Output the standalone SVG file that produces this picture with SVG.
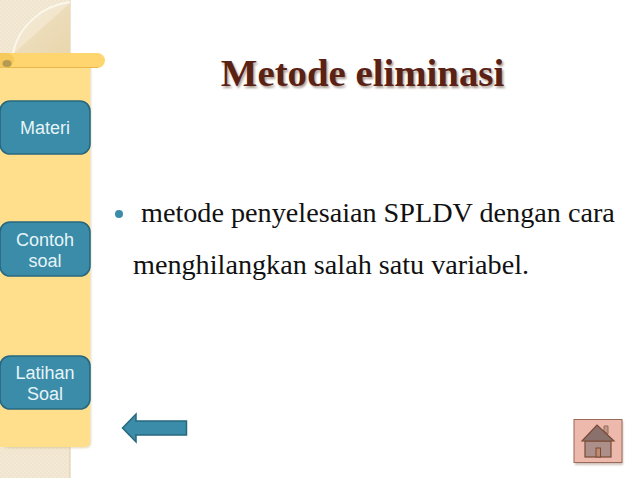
<svg xmlns="http://www.w3.org/2000/svg" width="638" height="478" viewBox="0 0 638 478">
<style>
.btn{fill:#3a8ca8;stroke:#27687f;stroke-width:1.600}
.bt{font-family:"Liberation Sans",Arial,sans-serif;font-size:18px;fill:#e6f4f8;text-anchor:middle}
.body{font-family:"Liberation Serif","Times New Roman",serif;font-size:28.200px;fill:#111}
.title{font-family:"Liberation Serif","Times New Roman",serif;font-size:38.800px;font-weight:bold;fill:#5a2115;text-anchor:middle}
</style>
<defs>
<pattern id="dots" width="4" height="4" patternUnits="userSpaceOnUse"><rect width="4" height="4" fill="#f3e9d4"/><circle cx="1" cy="1" r="0.8" fill="#ecdfc4"/><circle cx="3" cy="3" r="0.8" fill="#ecdfc4"/></pattern>
<linearGradient id="peel" x1="0" y1="0" x2="1" y2="1"><stop offset="0" stop-color="#f4ead6"/><stop offset=".5" stop-color="#f2e6cd"/><stop offset=".52" stop-color="#ecdcb9"/><stop offset="1" stop-color="#e9d6ad"/></linearGradient>
<filter id="sh" x="-10%" y="-20%" width="120%" height="140%"><feGaussianBlur stdDeviation="1"/></filter>
</defs>
<rect width="638" height="478" fill="#fff"/>
<g id="paper">
<rect x="0" y="0" width="70" height="478" fill="url(#dots)"/>
<rect x="69.500" y="0" width="1" height="478" fill="#dcc9a5"/>
<path d="M13 53C18 28 40 6 70 2V53Z" fill="url(#peel)"/>
<path d="M13 53C18 28 40 6 70 2" fill="none" stroke="#fbf7ec" stroke-width="2"/>
</g>
<g id="scroll">
<rect x="3" y="60" width="88" height="388" rx="5" fill="#c9b27a" opacity=".5" filter="url(#sh)"/>
<path d="M0 62H90V442a5 5 0 0 1-5 5H0Z" fill="#ffdf8c"/>
<rect x="0" y="53" width="105" height="15" rx="7.500" fill="#ffd56f"/>
<path d="M0 67.500H98" stroke="#e9b64c" stroke-width="1.200"/>
<path d="M0 53H7a7.500 7.500 0 0 1 7 7.500A7.500 7.500 0 0 1 7 67.500H0Z" fill="#f6c95c"/>
<ellipse cx="7" cy="63.500" rx="4.500" ry="3.500" fill="#b59a52"/>
</g>
<g id="materi">
<rect class="btn" x="0" y="101" width="90" height="53" rx="10"/>
<text class="bt" x="45" y="134">Materi</text>
</g>
<g id="contoh-soal">
<rect class="btn" x="0" y="222" width="90" height="54" rx="10"/>
<text class="bt" x="45" y="246">Contoh</text>
<text class="bt" x="45" y="267">soal</text>
</g>
<g id="latihan-soal">
<rect class="btn" x="0" y="356" width="90" height="53" rx="10"/>
<text class="bt" x="45" y="379">Latihan</text>
<text class="bt" x="45" y="400">Soal</text>
</g>
<g id="title">
<text class="title" x="362.500" y="86" dx="1.500" dy="1.500" style="fill:#a89a90" filter="url(#sh)">Metode eliminasi</text>
<text class="title" x="362.500" y="86">Metode eliminasi</text>
</g>
<g id="content">
<circle cx="119" cy="214" r="4" fill="#3a8ca8"/>
<text class="body" x="141" y="222">metode penyelesaian SPLDV dengan cara</text>
<text class="body" x="133" y="274">menghilangkan salah satu variabel.</text>
</g>
<g id="back">
<path d="M122.500 428L136 414V421H186.500V435H136V442Z" fill="#3a8ca8" stroke="#27687f" stroke-width="1.500"/>
</g>
<g id="home">
<rect x="575" y="421" width="48" height="44" fill="#b9a79f" opacity=".7" filter="url(#sh)"/>
<rect x="574" y="419.500" width="48" height="43" fill="#ecb9ac" stroke="#9a6a58" stroke-width="1"/>
<rect x="585" y="441" width="26" height="16" fill="#ab8f88" stroke="#7a4a35" stroke-width="1.200"/>
<path d="M604 431V426H608V434Z" fill="#c09a8c" stroke="#9a6a58"/>
<path d="M582 441L597 425L614 441Z" fill="#8a716c" stroke="#7a4a35" stroke-width="1.200"/>
<rect x="596" y="448" width="4.500" height="9" fill="#c08a70" stroke="#7a4a35"/>
</g>
</svg>
